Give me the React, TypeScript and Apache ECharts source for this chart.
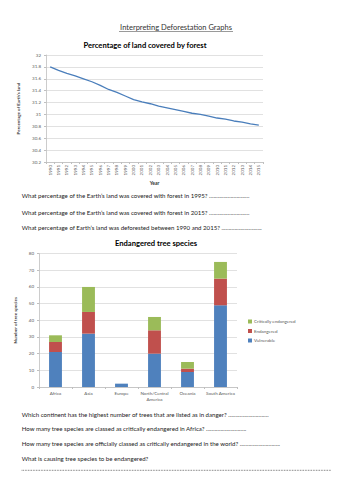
import React, { useEffect, useRef } from "react";
import * as echarts from "echarts";

const years = ["1990","1991","1992","1993","1994","1995","1996","1997","1998","1999","2000","2001","2002","2003","2004","2005","2006","2007","2008","2009","2010","2011","2012","2013","2014","2015"];
const forestPct = [31.8,31.74,31.69,31.65,31.6,31.55,31.49,31.42,31.37,31.31,31.25,31.21,31.18,31.14,31.11,31.08,31.05,31.02,31.0,30.97,30.94,30.92,30.89,30.87,30.84,30.82];

const continents = ["Africa","Asia","Europe","North/Central\nAmerica","Oceania","South America"];
const vulnerable = [21,32,2,20,9,49];
const endangered = [6,13,0,14,2,16];
const critically = [4,15,0,8,4,10];

const questions1 = [
  "What percentage of the Earth\u2019s land was covered with forest in 1995? ............................",
  "What percentage of the Earth\u2019s land was covered with forest in 2015? ............................",
  "What percentage of Earth\u2019s land was deforested between 1990 and 2015? ............................",
];
const questions2 = [
  "Which continent has the highest number of trees that are listed as in danger? ............................",
  "How many tree species are classed as critically endangered in Africa? ............................",
  "How many tree species are officially classed as critically endangered in the world? ............................",
  "What is causing tree species to be endangered?",
];

const FONT = "Lato, 'Open Sans', sans-serif";

export default function App() {
  const ref = useRef<HTMLDivElement>(null);
  useEffect(() => {
    if (!ref.current) return;
    const chart = echarts.init(ref.current, undefined, { renderer: "svg" });
    const axisLabel = { fontSize: 4.5, color: "#595959", fontFamily: FONT };
    const q1y = [195.7, 212.7, 227.7];
    const q2y = [414, 428.3, 443.3, 458.3];
    const graphics: any[] = [
      { type: "text", x: 176, y: 27, style: { text: "Interpreting Deforestation Graphs", fontSize: 7.5, fontFamily: FONT, fill: "#333", align: "center", verticalAlign: "middle" } },
      { type: "line", shape: { x1: 119, y1: 31.5, x2: 233, y2: 31.5 }, style: { stroke: "#555", lineWidth: 0.6 } },
      { type: "text", x: 145, y: 45, style: { text: "Percentage of land covered by forest", fontSize: 7.6, fontWeight: "bold", fontFamily: FONT, fill: "#000", align: "center", verticalAlign: "middle" } },
      { type: "text", x: 156, y: 243, style: { text: "Endangered tree species", fontSize: 7.6, fontWeight: "bold", fontFamily: FONT, fill: "#000", align: "center", verticalAlign: "middle" } },
      { type: "line", shape: { x1: 21.7, y1: 470.3, x2: 331, y2: 470.3 }, style: { stroke: "#333", lineWidth: 0.8, lineDash: [0.7, 0.9] } },
    ];
    questions1.forEach((q, i) => graphics.push({ type: "text", x: 21.7, y: q1y[i], style: { text: q, fontSize: 6.1, fontFamily: FONT, fill: "#222", verticalAlign: "middle" } }));
    questions2.forEach((q, i) => graphics.push({ type: "text", x: 21.7, y: q2y[i], style: { text: q, fontSize: 6.1, fontFamily: FONT, fill: "#222", verticalAlign: "middle" } }));

    chart.setOption({
      animation: false,
      textStyle: { fontFamily: FONT },
      graphic: graphics,
      legend: {
        orient: "vertical",
        left: 243,
        top: 314,
        itemWidth: 4,
        itemHeight: 4,
        itemGap: 4.5,
        icon: "rect",
        textStyle: { fontSize: 4.5, color: "#595959", fontFamily: FONT, padding: [0, 0, 0, -3] },
        data: ["Critically endangered", "Endangered", "Vulnerable"],
      },
      grid: [
        { left: 46, top: 55, width: 217, height: 107 },
        { left: 39, top: 253.6, width: 198, height: 133.4 },
      ],
      xAxis: [
        {
          gridIndex: 0, type: "category", data: years, boundaryGap: true,
          axisLine: { lineStyle: { color: "#bfbfbf", width: 0.8 } },
          axisTick: { show: true, alignWithLabel: false, length: 2, lineStyle: { color: "#bfbfbf" } },
          axisLabel: { ...axisLabel, rotate: 90, interval: 0, margin: 3 },
          name: "Year", nameLocation: "middle", nameGap: 18,
          nameTextStyle: { fontSize: 5, fontWeight: "bold", color: "#333", fontFamily: FONT },
        },
        {
          gridIndex: 1, type: "category", data: continents, boundaryGap: true,
          axisLine: { lineStyle: { color: "#bfbfbf", width: 0.8 } },
          axisTick: { show: true, length: 2, lineStyle: { color: "#bfbfbf" } },
          axisLabel: { ...axisLabel, interval: 0, margin: 4, lineHeight: 5.5 },
        },
      ],
      yAxis: [
        {
          gridIndex: 0, type: "value", min: 30.2, max: 32, interval: 0.2,
          axisLine: { show: true, lineStyle: { color: "#bfbfbf", width: 0.8 } },
          axisTick: { show: true, length: 2, lineStyle: { color: "#bfbfbf" } },
          splitLine: { lineStyle: { color: "#d9d9d9", width: 0.8 } },
          axisLabel: { ...axisLabel, margin: 5, formatter: (v: number) => String(Math.round(v * 10) / 10) },
          name: "Percentage of Earth's land", nameLocation: "middle", nameGap: 17,
          nameTextStyle: { fontSize: 4.5, fontWeight: "bold", color: "#333", fontFamily: FONT },
        },
        {
          gridIndex: 1, type: "value", min: 0, max: 80, interval: 10,
          axisLine: { show: true, lineStyle: { color: "#bfbfbf", width: 0.8 } },
          axisTick: { show: true, length: 2, lineStyle: { color: "#bfbfbf" } },
          splitLine: { lineStyle: { color: "#d9d9d9", width: 0.8 } },
          axisLabel: { ...axisLabel, margin: 5 },
          name: "Number of tree species", nameLocation: "middle", nameGap: 13,
          nameTextStyle: { fontSize: 4.5, fontWeight: "bold", color: "#333", fontFamily: FONT },
        },
      ],
      series: [
        {
          type: "line", xAxisIndex: 0, yAxisIndex: 0, data: forestPct, showSymbol: false,
          lineStyle: { color: "#4a7ebb", width: 1.3 }, itemStyle: { color: "#4a7ebb" },
        },
        { name: "Vulnerable", type: "bar", stack: "t", xAxisIndex: 1, yAxisIndex: 1, data: vulnerable, barWidth: "39%", itemStyle: { color: "#4f81bd" } },
        { name: "Endangered", type: "bar", stack: "t", xAxisIndex: 1, yAxisIndex: 1, data: endangered, barWidth: "39%", itemStyle: { color: "#c0504d" } },
        { name: "Critically endangered", type: "bar", stack: "t", xAxisIndex: 1, yAxisIndex: 1, data: critically, barWidth: "39%", itemStyle: { color: "#9bbb59" } },
      ],
    });
    return () => chart.dispose();
  }, []);
  return <div ref={ref} style={{ position: "fixed", left: 0, top: 0, width: 353, height: 500, background: "#fff" }} />;
}
